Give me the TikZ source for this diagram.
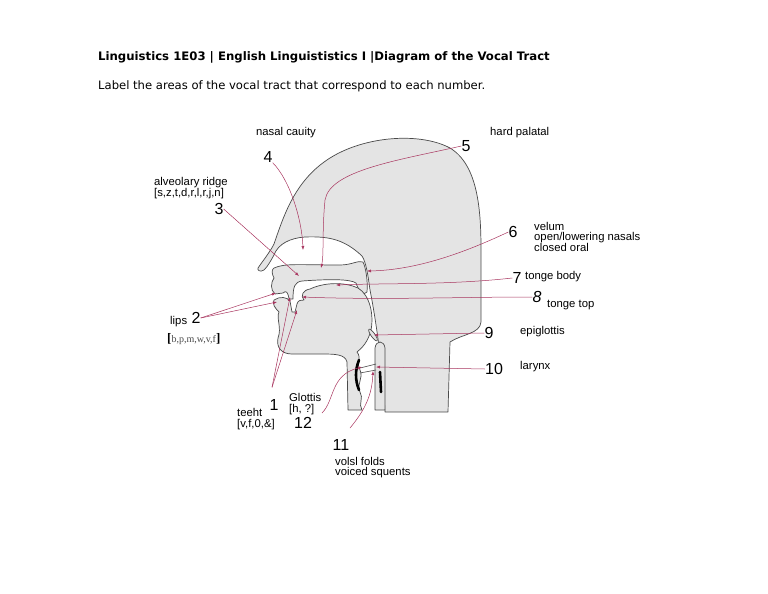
\documentclass[tikz,border=0pt]{standalone}
\usepackage{fontspec}
\setmainfont{Liberation Sans}
\newfontfamily\titlefont{DejaVu Sans}
\newfontfamily\serifb{Liberation Serif}
\usetikzlibrary{arrows.meta}
\definecolor{hd}{HTML}{E4E4E4}
\definecolor{ol}{HTML}{4A4A4A}
\definecolor{ar}{HTML}{A8345E}
\tikzset{
  part/.style={fill=hd,draw=ol,line width=0.7pt,line join=round},
  ptr/.style={draw=ar,line width=0.5pt,-{Latex[length=4pt,width=3pt]}},
  lab/.style={font=\fontsize{11.3}{11.5}\selectfont,inner sep=0pt,align=left},
  num/.style={font=\fontsize{16}{16}\selectfont,inner sep=0pt},
  fold/.style={line width=2.6pt,black,line cap=round}
}
\begin{document}
\begin{tikzpicture}[x=1pt,y=-1pt]
\useasboundingbox (0,0) rectangle (768,594);
% title
\node[anchor=west,inner sep=0pt,font=\titlefont\bfseries\fontsize{11.7}{13}\selectfont] (title) at (98,57) {Linguistics 1E03 | English Linguististics I |Diagram of the Vocal Tract};
\node[anchor=west,inner sep=0pt,font=\titlefont\fontsize{11.6}{13}\selectfont] (sub) at (98,86) {Label the areas of the vocal tract that correspond to each number.};
% head silhouette
\path[part] (258,268) .. controls (262,262) and (270,252) .. (274,244)
  .. controls (284,215) and (295,180) .. (330,158)
  .. controls (365,136) and (420,132) .. (450,148)
  .. controls (478,165) and (481,210) .. (481,250)
  -- (481,322) .. controls (480,334) and (462,334) .. (450,342)
  -- (448,412) -- (385,412)
  .. controls (383,370) and (376,320) .. (370,290)
  .. controls (368,275) and (366,262) .. (362,256)
  .. controls (345,240) and (330,236) .. (305,237)
  .. controls (290,238) and (278,244) .. (274,255)
  .. controls (270,262) and (268,266) .. (264,270)
  .. controls (261,272) and (257,271) .. (258,268) -- cycle;
% palate + upper lip + velum
\path[part] (274,268) .. controls (285,263) and (300,265) .. (340,265)
  .. controls (352,265) and (358,260) .. (363,262)
  .. controls (366,268) and (368,282) .. (367,292)
  .. controls (364,296) and (359,292) .. (356,283)
  .. controls (350,279) and (330,279) .. (302,281)
  .. controls (295,282) and (293,286) .. (293,299)
  -- (289,299) .. controls (288,292) and (286,290) .. (283,293)
  -- (275,294) .. controls (270,290) and (271,282) .. (274,278)
  .. controls (272,274) and (271,270) .. (274,268) -- cycle;
% tongue, jaw, lower lip, throat front
\path[part] (274,300) .. controls (280,296) and (287,297) .. (290,301)
  -- (292,312) -- (295,312) -- (297,304)
  .. controls (298,300) and (301,300) .. (304,300)
  .. controls (300,296) and (303,290) .. (310,289)
  .. controls (325,282) and (345,282) .. (358,288)
  .. controls (370,295) and (374,315) .. (371,330)
  .. controls (368,342) and (362,348) .. (357,352)
  .. controls (362,358) and (356,364) .. (360,370)
  .. controls (364,378) and (356,384) .. (360,392)
  .. controls (364,398) and (358,404) .. (362,410)
  -- (348,410) -- (347,362)
  .. controls (345,354) and (335,354) .. (320,354)
  -- (292,354) .. controls (282,354) and (276,348) .. (278,338)
  .. controls (282,328) and (276,318) .. (279,312)
  .. controls (275,308) and (272,304) .. (274,300) -- cycle;
% epiglottis
\path[part,rotate around={-55:(373,335)}] (373,335) ellipse (7pt and 2pt);
% arytenoid column
\path[part] (375,410) -- (375,348) .. controls (376,340) and (384,340) .. (385,348) -- (385,410) -- cycle;
% vocal folds
\draw[fold] (359,360) .. controls (355,370) and (355,380) .. (359,390);
\draw[fold] (380,372) -- (381,392);
\draw[ol,line width=0.6pt] (360,368) -- (376,364) (360,373) -- (376,370);
% labels
\node[lab,anchor=base] (nasal) at (286,135) {nasal cauity};
\node[num] (n4) at (268,157) {4};
\node[lab,anchor=base west] (hard) at (490,135) {hard palatal};
\node[num] (n5) at (466,146) {5};
\node[lab,anchor=west] (alv) at (154,188) {alveolary ridge\\[-1pt][s,z,t,d,r,l,r,j,n]};
\node[num] (n3) at (219,209) {3};
\node[num] (n6) at (513,232) {6};
\node[lab,anchor=north west,font=\fontsize{11.3}{10}\selectfont] (velum) at (534,222) {velum\\open/lowering nasals\\closed oral};
\node[num] (n7) at (517,278) {7};
\node[lab,anchor=base west] (tb) at (525,279) {tonge body};
\node[num,font=\fontsize{16}{16}\selectfont\itshape] (n8) at (537,297) {8};
\node[lab,anchor=base west] (tt) at (547,307) {tonge top};
\node[num] (n9) at (489,333) {9};
\node[lab,anchor=base west] (epi) at (520,334) {epiglottis};
\node[num] (n10) at (494,369) {10};
\node[lab,anchor=base west] (lar) at (520,369) {larynx};
\node[lab,anchor=base west] (lips) at (170,324) {lips};
\node[num] (n2) at (196,318) {2};
\node[anchor=west,inner sep=0pt,font=\serifb\fontsize{10}{10}\selectfont,text=ol] (lipss) at (167,339) {{\fontsize{13}{13}\selectfont\bfseries\color{black}[}b,p,m,w,v,f{\fontsize{13}{13}\selectfont\bfseries\color{black}]}};
\node[num] (n1) at (274,405) {1};
\node[lab,anchor=west] (teeth) at (237,419) {teeht\\[-1pt][v,f,0,\&]};
\node[lab,anchor=west] (glot) at (289,404) {Glottis\\[-1pt][h, ?]};
\node[num] (n12) at (303,423) {12};
\node[num] (n11) at (341,445) {11};
\node[lab,anchor=north west] (vf) at (335,457) {volsl folds\\[-1pt]voiced squents};
% pointers
\coordinate (t4) at (303,250); \coordinate (t5) at (321,268);
\coordinate (t3) at (299,276); \coordinate (t6) at (367,271);
\coordinate (t7) at (336,285); \coordinate (t8) at (302,297);
\coordinate (t9) at (374,335); \coordinate (t10) at (376,367);
\coordinate (t2a) at (276,293); \coordinate (t2b) at (277,302);
\coordinate (t1a) at (290,297); \coordinate (t1b) at (297,310);
\coordinate (t12) at (362,367); \coordinate (t11) at (373,371);
\draw[ptr] (n4.south east) .. controls (290,180) and (302,220) .. (t4);
\draw[ptr] (n5.west) .. controls (400,160) and (330,170) .. (325,200) .. controls (322,230) and (324,255) .. (t5);
\draw[ptr] (n3.east) -- (t3);
\draw[ptr] (n6.west) .. controls (470,250) and (420,270) .. (t6);
\draw[ptr] (n7.west) .. controls (450,285) and (390,283) .. (t7);
\draw[ptr] (n8.west) .. controls (460,297) and (380,300) .. (t8);
\draw[ptr] (n9.west) -- (t9);
\draw[ptr] (n10.west) -- (t10);
\draw[ptr] (n2.east) -- (t2a);
\draw[ptr] (n2.east) -- (t2b);
\draw[ptr] (n1.north) ++(-2,-12) coordinate (o1) -- (t1a);
\draw[ptr] (o1) -- (t1b);
\draw[ptr] (322,413) .. controls (335,400) and (330,375) .. (t12);
\draw[ptr] (350,428) .. controls (365,410) and (372,395) .. (t11);
\end{tikzpicture}
\end{document}
